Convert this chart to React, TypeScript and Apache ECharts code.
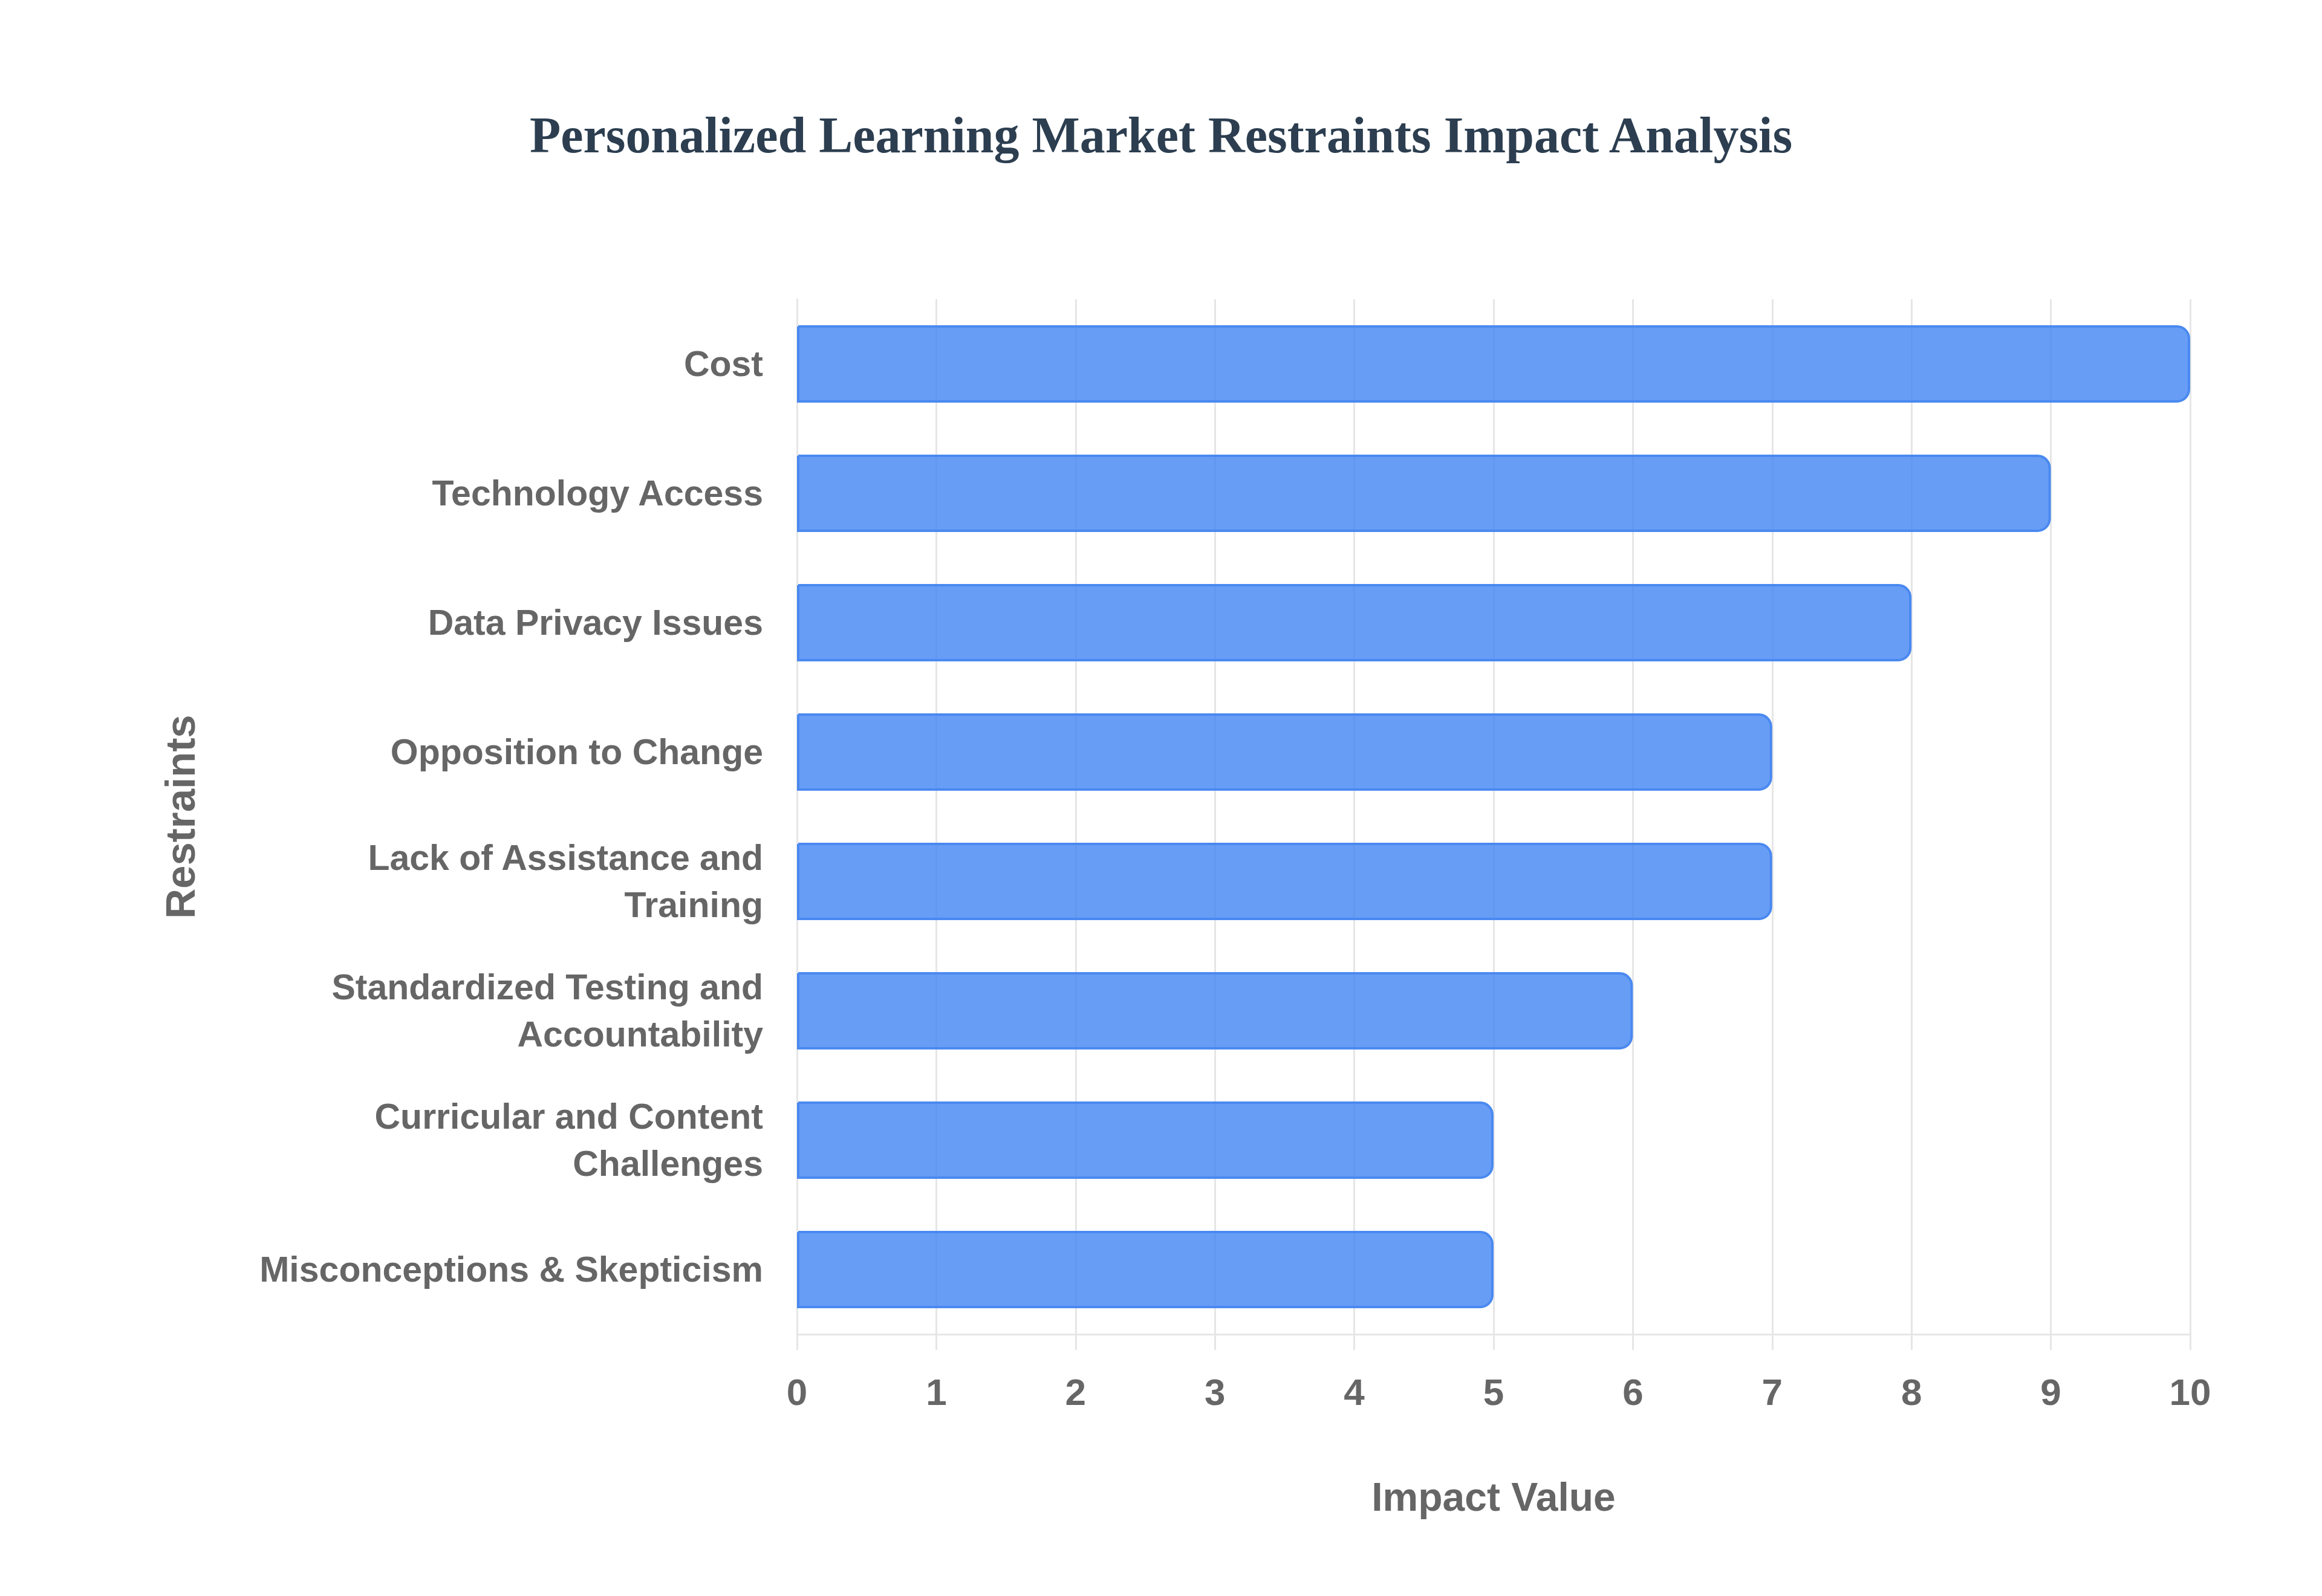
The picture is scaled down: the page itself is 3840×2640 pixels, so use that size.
import { useEffect, useRef } from 'react'
import * as echarts from 'echarts'

const restraints = [
  'Cost',
  'Technology Access',
  'Data Privacy Issues',
  'Opposition to Change',
  'Lack of Assistance and Training',
  'Standardized Testing and Accountability',
  'Curricular and Content Challenges',
  'Misconceptions & Skepticism',
]
const impactValues = [10, 9, 8, 7, 7, 6, 5, 5]

const sansFont = '"Liberation Sans", Arial, Helvetica, sans-serif'
const serifFont = '"Liberation Serif", "Times New Roman", serif'
const gridColor = '#e6e6e6'
const textGray = '#666666'
const labelSize = 59
const labelMaxWidth = 860

// greedy word wrap so wrapped lines don't keep a trailing space
const measureCtx = document.createElement('canvas').getContext('2d')
function wrapLabel(text: string) {
  if (!measureCtx) return text
  measureCtx.font = `bold ${labelSize}px ${sansFont}`
  const lines: string[] = []
  let line = ''
  for (const word of text.split(' ')) {
    const next = line ? `${line} ${word}` : word
    if (line && measureCtx.measureText(next).width > labelMaxWidth) {
      lines.push(line)
      line = word
    } else {
      line = next
    }
  }
  if (line) lines.push(line)
  return lines.join('\n')
}

export default function App() {
  const chartRef = useRef<HTMLDivElement>(null)

  useEffect(() => {
    if (!chartRef.current) return
    const chart = echarts.init(chartRef.current, null, { renderer: 'svg' })

    const option: echarts.EChartsOption = {
      animation: false,
      backgroundColor: '#ffffff',
      title: {
        text: 'Personalized Learning Market Restraints Impact Analysis',
        left: 'center',
        top: 176,
        textStyle: {
          fontFamily: serifFont,
          fontWeight: 'bold',
          fontSize: 84,
          color: '#2c3e50',
        },
      },
      grid: { left: 1318, right: 218, top: 495, bottom: 433, containLabel: false },
      xAxis: {
        type: 'value',
        min: 0,
        max: 10,
        interval: 1,
        name: 'Impact Value',
        nameLocation: 'middle',
        nameGap: 236,
        nameTextStyle: {
          fontFamily: sansFont,
          fontWeight: 'bold',
          fontSize: 66,
          color: textGray,
        },
        axisLine: { show: true, lineStyle: { color: gridColor, width: 3 } },
        axisTick: { show: true, length: 26, lineStyle: { color: gridColor, width: 3 } },
        splitLine: { show: true, lineStyle: { color: gridColor, width: 3 } },
        axisLabel: {
          margin: 64,
          fontFamily: sansFont,
          fontWeight: 'bold',
          fontSize: 62,
          color: textGray,
        },
      },
      yAxis: {
        type: 'category',
        inverse: true,
        data: restraints,
        name: 'Restraints',
        nameLocation: 'middle',
        nameRotate: 90,
        nameGap: 985,
        nameTextStyle: {
          fontFamily: sansFont,
          fontWeight: 'bold',
          fontSize: 69,
          color: textGray,
        },
        axisLine: { show: true, lineStyle: { color: gridColor, width: 3 } },
        axisTick: { show: false },
        splitLine: { show: false },
        axisLabel: {
          margin: 56,
          fontFamily: sansFont,
          fontWeight: 'bold',
          fontSize: labelSize,
          lineHeight: 78,
          color: textGray,
          align: 'right',
          formatter: (value: string) => wrapLabel(value),
        },
      },
      series: [
        {
          type: 'bar',
          data: impactValues,
          barWidth: 128,
          itemStyle: {
            color: 'rgba(66, 133, 244, 0.8)',
            borderColor: '#4a89f0',
            borderWidth: 4,
            borderRadius: [0, 20, 20, 0],
          },
        },
      ],
    }

    chart.setOption(option)
    return () => {
      chart.dispose()
    }
  }, [])

  return (
    <div
      ref={chartRef}
      style={{ position: 'absolute', left: 0, top: 0, width: '3840px', height: '2640px' }}
    />
  )
}
